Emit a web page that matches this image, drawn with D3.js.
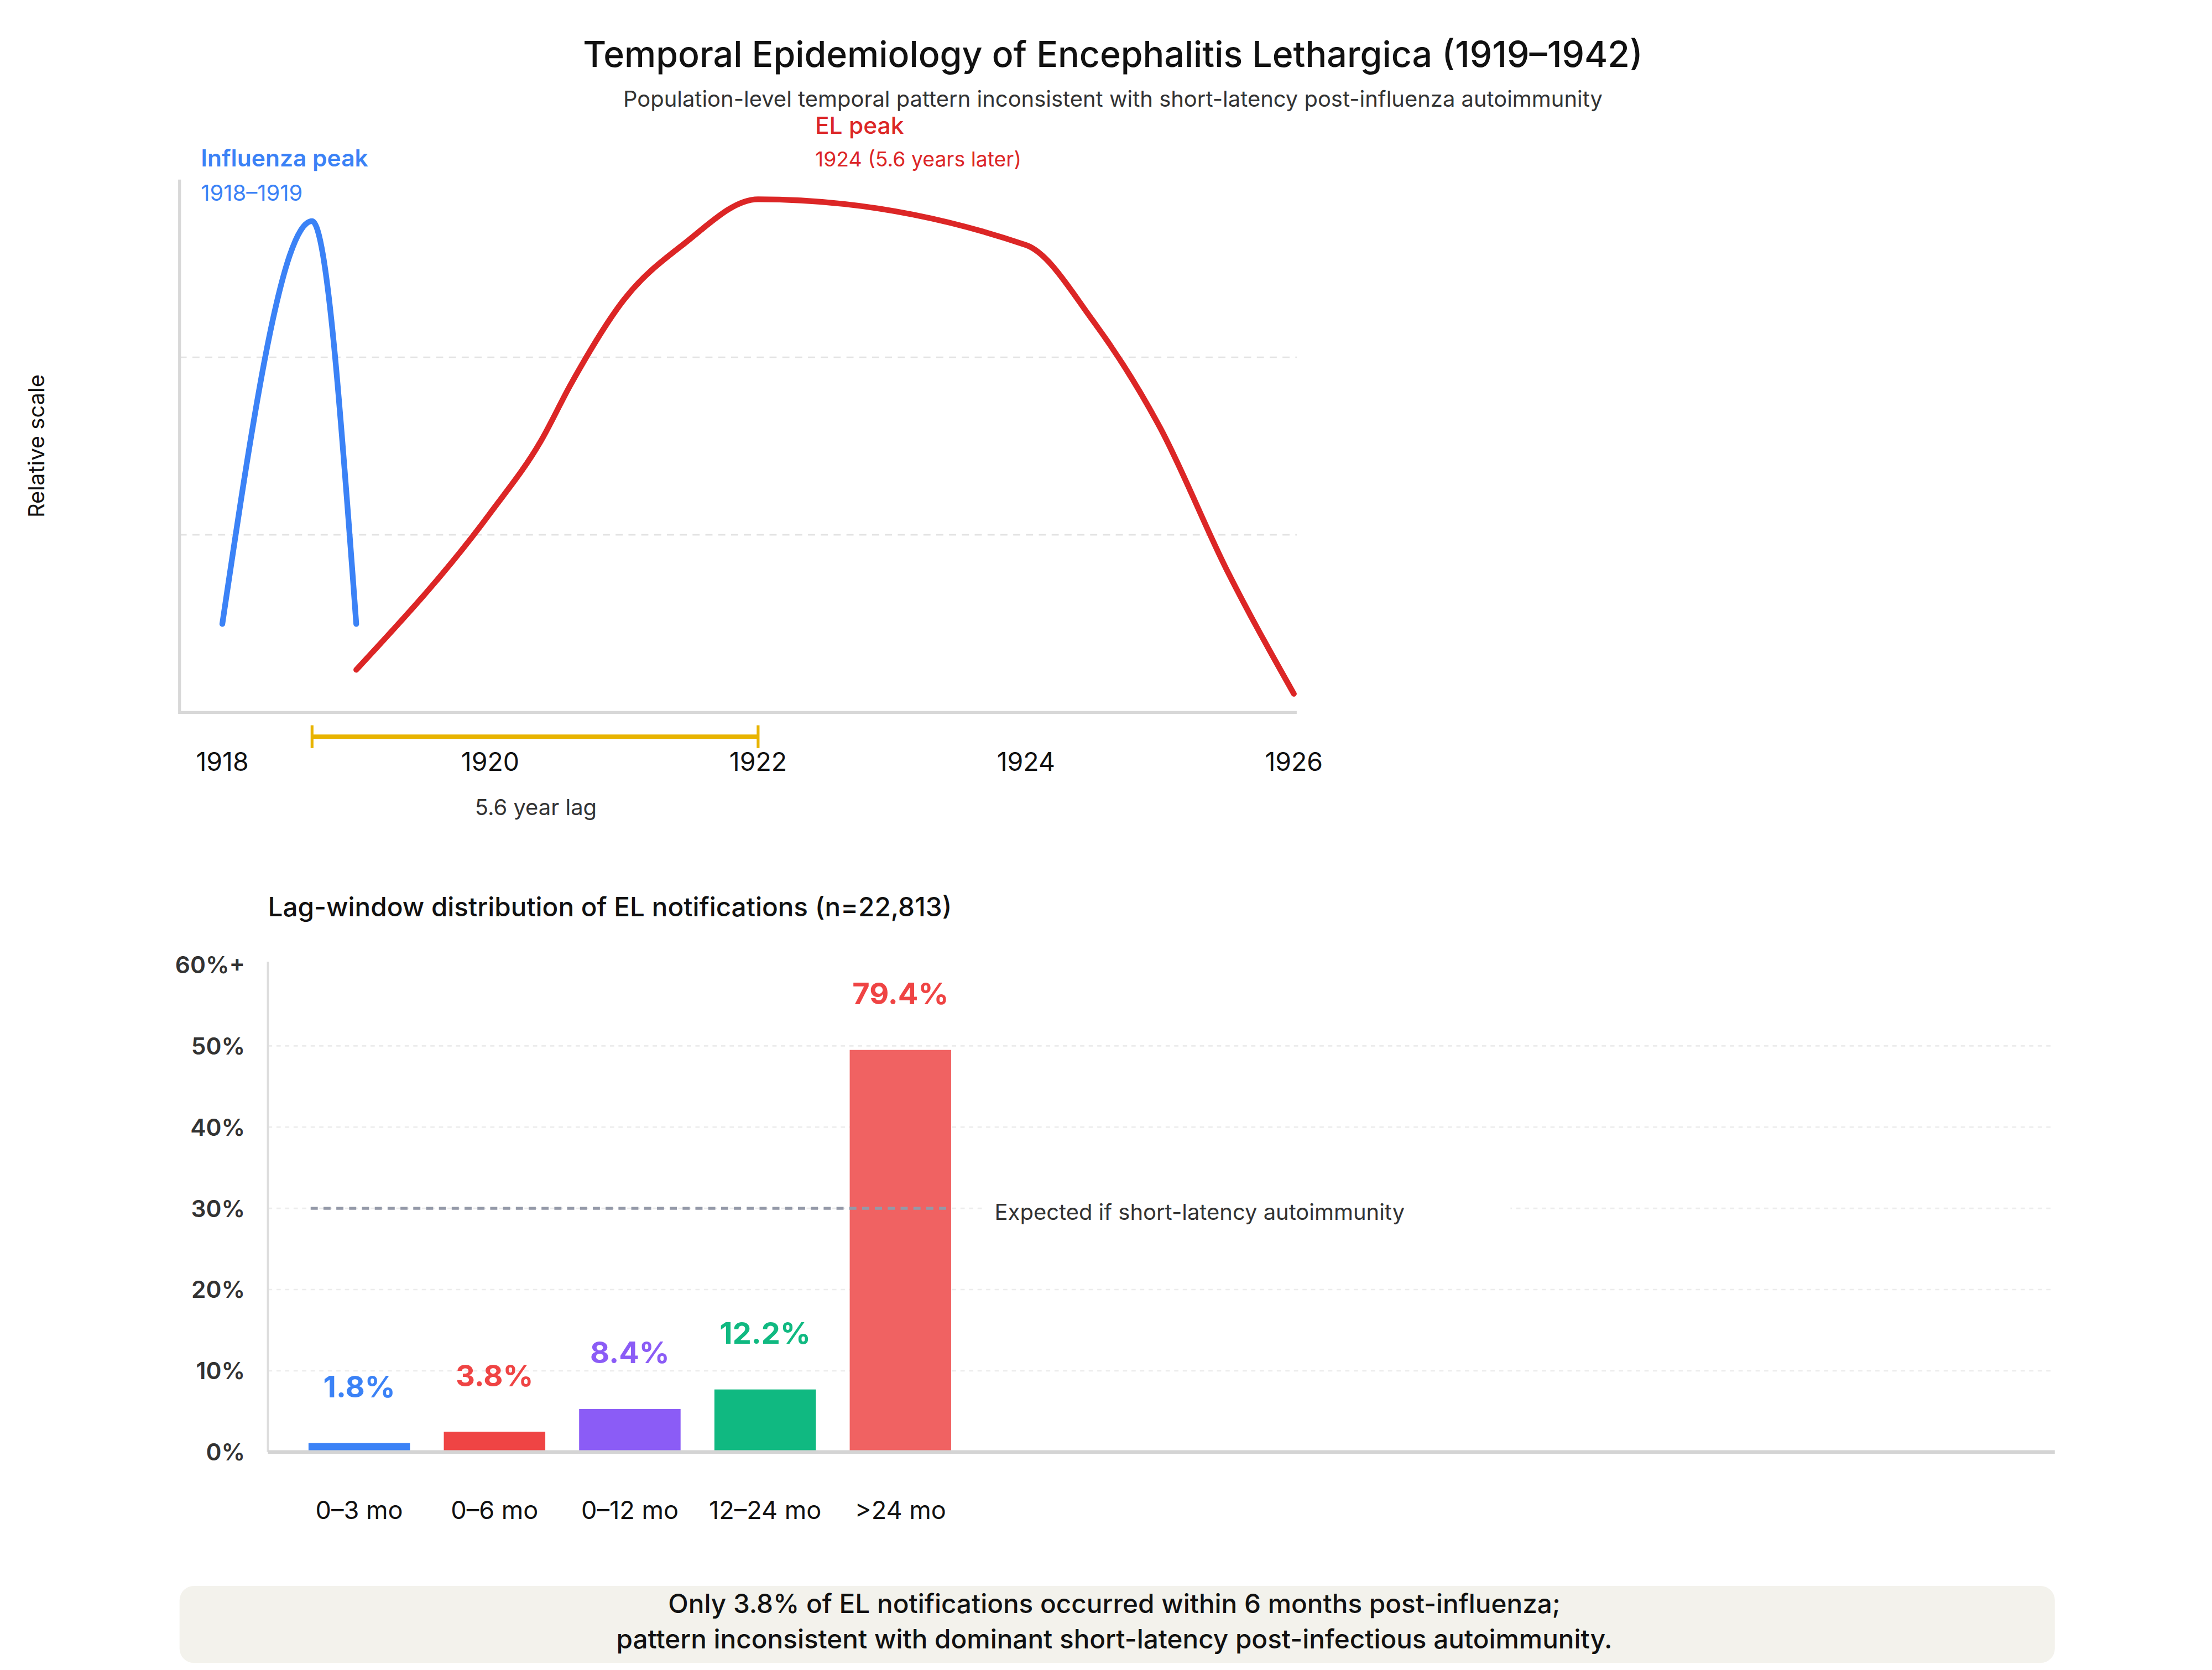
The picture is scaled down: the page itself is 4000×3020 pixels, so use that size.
<!DOCTYPE html>
<html><head><meta charset="utf-8">
<script src="https://cdn.jsdelivr.net/npm/d3@7"></script>
<style>html,body{margin:0;background:#fff}svg{display:block;font-family:Inter,"Noto Sans",sans-serif}</style>
</head><body>
<script>
// Top panel data
const fluYears = [1918, 1918.67, 1919];
const fluValues = [0.166, 0.922, 0.166];
const elYears = [1919, 1920, 1920.38, 1920.6, 1921, 1921.45, 1922, 1924, 1924.5, 1925, 1925.5, 1926];
const elValues = [0.08, 0.374, 0.51, 0.615, 0.775, 0.88, 0.963, 0.877, 0.735, 0.535, 0.267, 0.035];
const yearTicks = [1918, 1920, 1922, 1924, 1926];
const lagStart = 1918.67, lagEnd = 1922;
// Bottom panel data
const categories = ["0–3 mo", "0–6 mo", "0–12 mo", "12–24 mo", ">24 mo"];
const barLabels = ["1.8%", "3.8%", "8.4%", "12.2%", "79.4%"];
const barHeights = [1.1, 2.5, 5.3, 7.7, 49.5];
const barColors = ["#3b82f6", "#ef4444", "#8b5cf6", "#10b981", "#f06262"];
const labelColors = ["#3b82f6", "#ef4444", "#8b5cf6", "#10b981", "#ef4444"];
const pctTicks = [0, 10, 20, 30, 40, 50, 60];
const expected = 30;

const W = 1552.3, H = 1172;
const svg = d3.select("body").append("svg").attr("width", 4000).attr("height", 3020).attr("viewBox", `0 0 ${W} ${H}`);

svg.append("text").attr("x", 781).attr("y", 47).attr("text-anchor", "middle").attr("font-size", 25).attr("font-weight", 500).attr("fill", "#111").text("Temporal Epidemiology of Encephalitis Lethargica (1919–1942)");
svg.append("text").attr("x", 781).attr("y", 75).attr("text-anchor", "middle").attr("font-size", 15.5).attr("fill", "#333").text("Population-level temporal pattern inconsistent with short-latency post-influenza autoimmunity");

// Top chart
const x = d3.scaleLinear().domain([1918, 1926]).range([156, 908]);
const y = d3.scaleLinear().domain([0, 1]).range([500, 126]);
const g = svg.append("g");
[1/3, 2/3].forEach(v => g.append("line").attr("x1", 126).attr("x2", 910).attr("y1", y(v)).attr("y2", y(v)).attr("stroke", "#e3e3e3").attr("stroke-dasharray", "5,4"));
g.append("path").attr("d", `M126,126V500H910`).attr("fill", "none").attr("stroke", "#d8d8d8").attr("stroke-width", 2);
yearTicks.forEach(t => g.append("text").attr("x", x(t)).attr("y", 541).attr("text-anchor", "middle").attr("font-size", 18).attr("fill", "#111").text(t));
const line = d3.line().x(d => x(d[0])).y(d => y(d[1]));
g.append("path").datum(d3.zip(fluYears, fluValues)).attr("d", line.curve(d3.curveMonotoneX)).attr("fill", "none").attr("stroke", "#3b82f6").attr("stroke-width", 4).attr("stroke-linecap", "round");
g.append("path").datum(d3.zip(elYears, elValues)).attr("d", line.curve(d3.curveMonotoneX)).attr("fill", "none").attr("stroke", "#dc2626").attr("stroke-width", 4).attr("stroke-linecap", "round");
g.append("text").attr("x", 141).attr("y", 117).attr("font-size", 16.5).attr("font-weight", 600).attr("fill", "#3b82f6").text("Influenza peak");
g.append("text").attr("x", 141).attr("y", 141).attr("font-size", 15.5).attr("fill", "#3b82f6").text("1918–1919");
g.append("text").attr("x", 572).attr("y", 94).attr("font-size", 16.5).attr("font-weight", 500).attr("fill", "#dc2626").text("EL peak");
g.append("text").attr("x", 572).attr("y", 117).attr("font-size", 14.5).attr("fill", "#dc2626").text("1924 (5.6 years later)");
const gold = "#e8b400";
g.append("line").attr("x1", x(lagStart)).attr("x2", x(lagEnd)).attr("y1", 517).attr("y2", 517).attr("stroke", gold).attr("stroke-width", 3);
[lagStart, lagEnd].forEach(v => g.append("line").attr("x1", x(v)).attr("x2", x(v)).attr("y1", 509).attr("y2", 525).attr("stroke", gold).attr("stroke-width", 2));
g.append("text").attr("x", 376).attr("y", 572).attr("text-anchor", "middle").attr("font-size", 15.5).attr("fill", "#333").text("5.6 year lag");
svg.append("text").attr("transform", "translate(31,313) rotate(-90)").attr("text-anchor", "middle").attr("font-size", 15.5).attr("fill", "#111").text("Relative scale");

// Bottom chart
const yb = d3.scaleLinear().domain([0, 60]).range([1019, 677]);
const xb = d3.scaleBand().domain(categories).range([207, 677]).paddingInner(0.25).paddingOuter(0.1);
const b = svg.append("g");
b.append("text").attr("x", 188).attr("y", 643).attr("font-size", 18.5).attr("font-weight", 500).attr("fill", "#111").text("Lag-window distribution of EL notifications (n=22,813)");
pctTicks.filter(t => t > 0 && t < 60).forEach(t => b.append("line").attr("x1", 188).attr("x2", 1440).attr("y1", yb(t)).attr("y2", yb(t)).attr("stroke", "#ececec").attr("stroke-dasharray", "3,3"));
pctTicks.forEach(t => b.append("text").attr("x", 172).attr("y", yb(t) + 6).attr("text-anchor", "end").attr("font-size", 16.5).attr("font-weight", 600).attr("fill", "#333").text(t === 60 ? "60%+" : t + "%"));
b.append("line").attr("x1", 188).attr("x2", 188).attr("y1", 675).attr("y2", 1019).attr("stroke", "#ddd").attr("stroke-width", 1.5);
b.selectAll("rect.bar").data(categories).join("rect").attr("x", d => xb(d)).attr("width", xb.bandwidth()).attr("y", (d, i) => yb(barHeights[i])).attr("height", (d, i) => yb(0) - yb(barHeights[i])).attr("fill", (d, i) => barColors[i]);
b.append("line").attr("x1", 188).attr("x2", 1442).attr("y1", 1019).attr("y2", 1019).attr("stroke", "#d4d4d4").attr("stroke-width", 2.5);
b.selectAll("text.val").data(categories).join("text").attr("x", d => xb(d) + xb.bandwidth() / 2).attr("y", (d, i) => yb(barHeights[i]) - 32).attr("text-anchor", "middle").attr("font-size", 21).attr("font-weight", 700).attr("fill", (d, i) => labelColors[i]).text((d, i) => barLabels[i]);
b.selectAll("text.cat").data(categories).join("text").attr("x", d => xb(d) + xb.bandwidth() / 2).attr("y", 1066).attr("text-anchor", "middle").attr("font-size", 17.5).attr("fill", "#111").text(d => d);
b.append("rect").attr("x", 690).attr("y", yb(expected) - 12).attr("width", 370).attr("height", 24).attr("fill", "#fff");
b.append("line").attr("x1", 218).attr("x2", 666).attr("y1", yb(expected)).attr("y2", yb(expected)).attr("stroke", "#9499a8").attr("stroke-width", 2).attr("stroke-dasharray", "5,4");
b.append("text").attr("x", 698).attr("y", yb(expected) + 8).attr("font-size", 15.5).attr("fill", "#333").text("Expected if short-latency autoimmunity");
b.append("rect").attr("x", 126).attr("y", 1113).attr("width", 1316).attr("height", 54).attr("rx", 10).attr("fill", "#f3f2ec");
b.append("text").attr("x", 782).attr("y", 1132).attr("text-anchor", "middle").attr("font-size", 18.5).attr("font-weight", 500).attr("fill", "#111").text("Only 3.8% of EL notifications occurred within 6 months post-influenza;");
b.append("text").attr("x", 782).attr("y", 1157).attr("text-anchor", "middle").attr("font-size", 18.5).attr("font-weight", 500).attr("fill", "#111").text("pattern inconsistent with dominant short-latency post-infectious autoimmunity.");
</script>
</body></html>
